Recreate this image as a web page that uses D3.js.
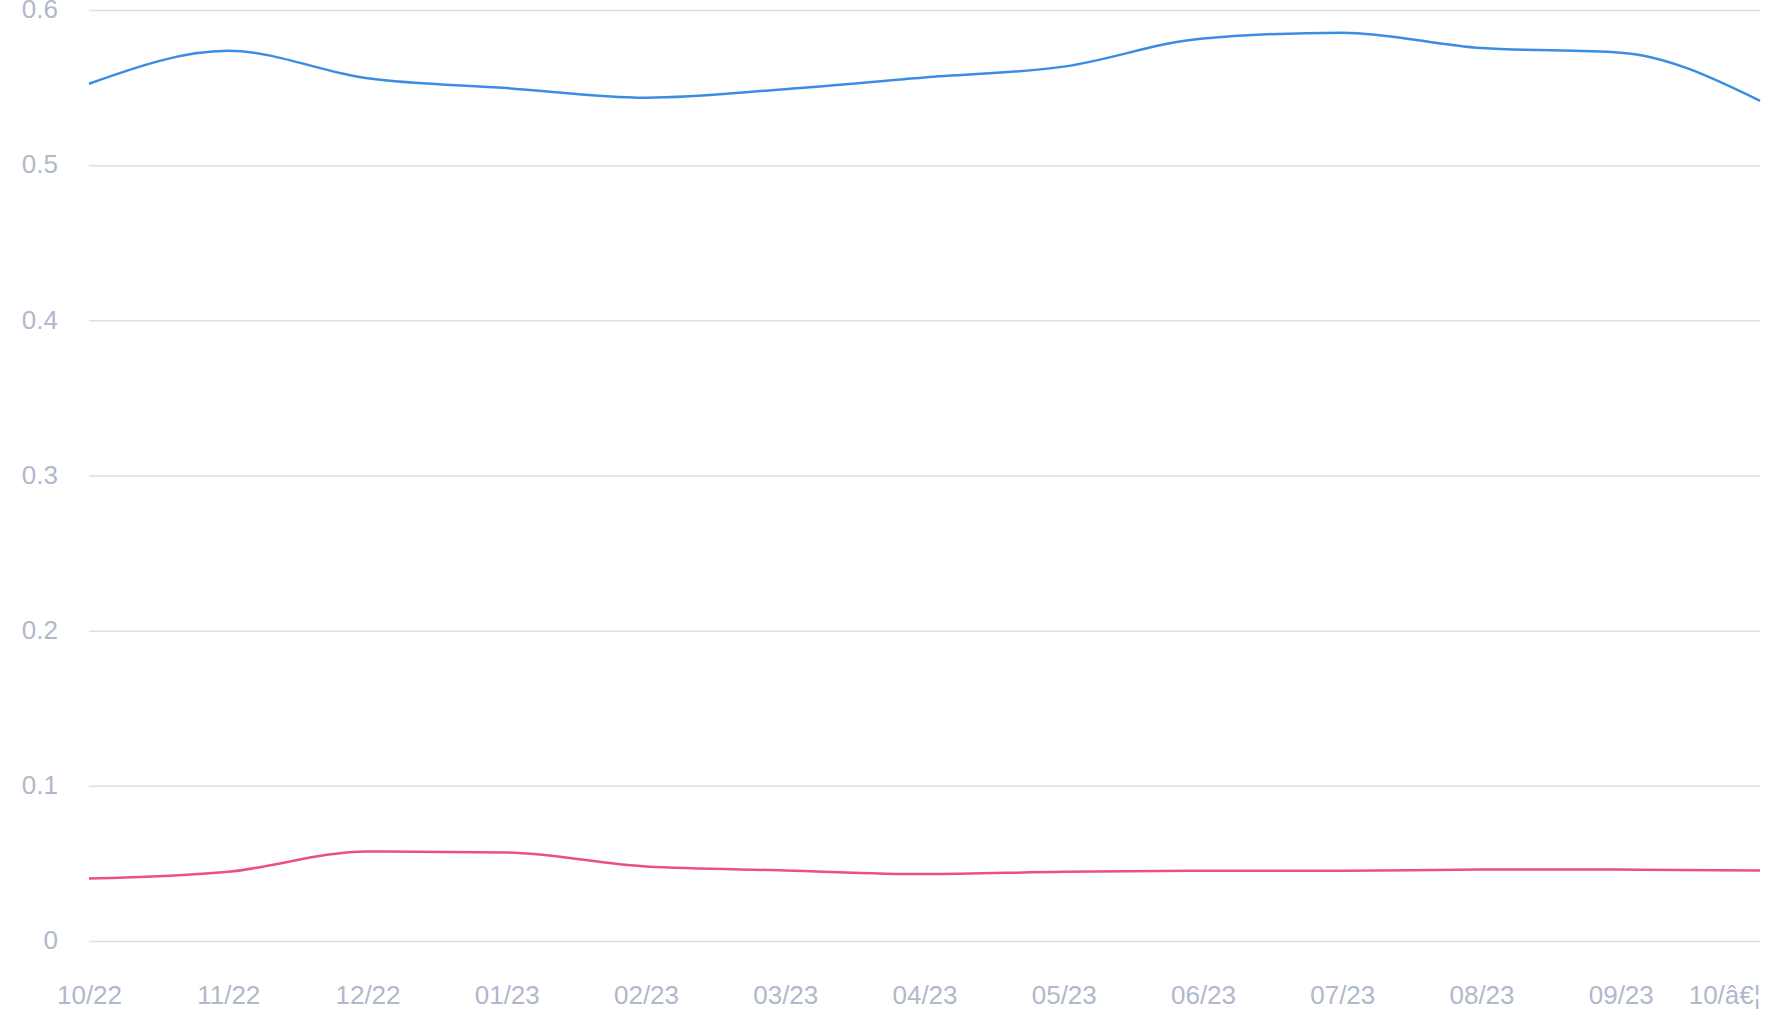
<!DOCTYPE html>
<html><head><meta charset="utf-8">
<script src="https://cdn.jsdelivr.net/npm/d3@7"></script>
<style>body{margin:0;background:#fff}</style>
</head><body>
<div id="chart"></div>
<script>
/* Data */
const MONTHS = ['10/22','11/22','12/22','01/23','02/23','03/23','04/23','05/23','06/23','07/23','08/23','09/23','10/â€¦'];
const BLUE = [0.5525,0.5737,0.556,0.5497,0.5435,0.549,0.5565,0.5635,0.5817,0.5854,0.5755,0.5725,0.5415];
const PINK = [0.0402,0.0446,0.0577,0.057,0.048,0.0455,0.0431,0.0446,0.0453,0.0453,0.046,0.046,0.0455];
const Y_TICKS = [0,0.1,0.2,0.3,0.4,0.5,0.6];

/* Dimensions */
const W = 1780, H = 1010;
const LEFT = 89, RIGHT = 1760, TOP = 10, BOTTOM = 941;

const svg = d3.select('#chart').append('svg')
    .attr('width', W).attr('height', H)
    .style('font-family', 'Liberation Sans, Arial, sans-serif');

const x = d3.scalePoint().domain(MONTHS).range([LEFT, RIGHT]);
const y = d3.scaleLinear().domain([0, 0.6]).range([BOTTOM, TOP]);

const yAxis = svg.append('g').attr('transform', `translate(${LEFT},0)`)
    .call(d3.axisLeft(y).tickValues(Y_TICKS).tickFormat(d => d3.format('~g')(d))
        .tickSize(-(RIGHT - LEFT)).tickPadding(31));
yAxis.select('.domain').remove();
yAxis.selectAll('line').attr('stroke', '#dcdfe8').attr('stroke-width', 1.5);
yAxis.selectAll('text').attr('fill', '#b0b8cc').attr('font-size', 26).attr('dy', '0.3em');

const xAxis = svg.append('g').attr('transform', `translate(0,${BOTTOM})`)
    .call(d3.axisBottom(x).tickSize(0).tickPadding(45));
xAxis.select('.domain').remove();
xAxis.selectAll('text').attr('fill', '#b0b8cc').attr('font-size', 26);
xAxis.selectAll('text').filter((d, i) => i === MONTHS.length - 1).attr('text-anchor', 'end');

const line = d3.line().x((d, i) => x(MONTHS[i])).y(d => y(d)).curve(d3.curveMonotoneX);

svg.append('path').datum(BLUE).attr('d', line)
    .attr('fill', 'none').attr('stroke', '#3b8de3').attr('stroke-width', 2.5);
svg.append('path').datum(PINK).attr('d', line)
    .attr('fill', 'none').attr('stroke', '#ec4f80').attr('stroke-width', 2.5);
</script>
</body></html>
